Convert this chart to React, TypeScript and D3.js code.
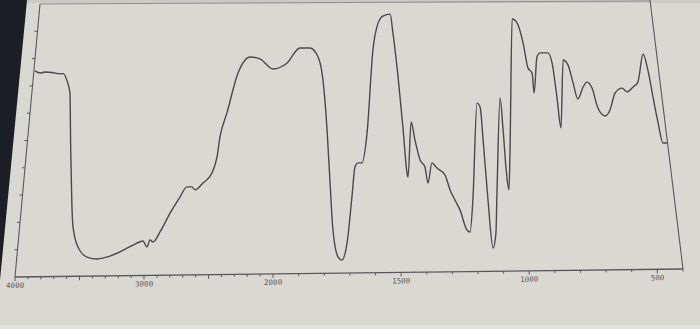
import React from "react";
import * as d3 from "d3";

// Wavenumber (cm-1) of each sampled point of the spectrum
const wavenumbers = [
  3845, 3806, 3767, 3713, 3651, 3628, 3599, 3574, 3568, 3560, 3550, 3512, 3442, 3364, 3287,
  3186, 3085, 3008, 2977, 2953, 2930, 2876, 2798, 2721, 2667, 2628, 2605, 2543, 2473, 2434,
  2411, 2357, 2271, 2178, 2101, 2000, 1945, 1895, 1856, 1824, 1805, 1789, 1778, 1766, 1746,
  1731, 1711, 1692, 1680, 1668, 1653, 1633, 1610, 1590, 1571, 1543, 1532, 1512, 1493, 1477,
  1473, 1461, 1446, 1426, 1407, 1395, 1380, 1360, 1329, 1309, 1290, 1270, 1243, 1231, 1220,
  1204, 1192, 1180, 1161, 1141, 1130, 1126, 1114, 1102, 1090, 1079, 1075, 1067, 1047, 1024,
  1005, 989, 981, 970, 958, 927, 911, 892, 876, 868, 849, 829, 810, 790, 775,
  755, 732, 704, 685, 665, 638, 618, 595, 576, 556, 537, 517, 497, 478, 462,
];

// Transmittance (%) at each wavenumber
const transmittance = [
  75.5, 74.7, 75.1, 74.9, 74.4, 74.5, 72.2, 67.4, 46.5, 28.2, 18.3, 11.0, 7.3, 6.6, 7.3,
  9.2, 11.7, 13.2, 11.0, 13.6, 12.8, 16.5, 23.4, 29.3, 33.0, 33.0, 31.9, 34.4, 38.1, 44.0,
  51.3, 60.1, 74.7, 80.6, 79.9, 76.2, 78.4, 83.9, 83.9, 80.6, 72.2, 53.8, 35.5, 17.2, 7.3,
  6.2, 12.5, 29.3, 40.3, 41.8, 41.8, 52.7, 83.2, 93.0, 95.6, 96.3, 89.4, 73.3, 54.9, 38.1,
  36.6, 56.8, 50.2, 42.9, 40.3, 34.4, 41.8, 39.9, 37.4, 31.9, 28.2, 24.5, 17.2, 16.5, 28.2,
  63.7, 62.3, 50.2, 28.2, 10.6, 16.1, 30.8, 65.6, 53.8, 39.2, 31.9, 46.5, 94.5, 93.0, 85.7,
  76.6, 74.7, 67.4, 80.6, 82.1, 82.1, 78.4, 65.9, 54.6, 79.5, 77.7, 71.1, 65.2, 69.6, 71.4,
  69.2, 61.9, 59.0, 61.2, 67.4, 69.2, 67.8, 69.6, 71.4, 81.7, 75.8, 65.9, 56.4, 49.1, 49.1,
];

const tickLabels = ["4000", "3000", "2000", "1500", "1000", "500"];
const tickLabelValues = [4000, 3000, 2000, 1500, 1000, 500];
const yTickValues = [10, 20, 30, 40, 50, 60, 70, 80, 90];

export default function App() {
  const W = 700;
  const H = 329;
  const x = d3.scaleLinear().domain([4000, 2000, 400]).range([15, 273, 683]);
  const y = d3.scaleLinear().domain([0, 100]).range([277, 4]);

  const x0 = x(4000);
  const x1 = x(400);
  const yB = y(0);
  const yT = y(100);
  const leftTopShift = 25;
  const rightTopShift = -33;
  const rightDrop = -8; // bottom axis tilt (pixels) at the right end
  const angle = (Math.atan2(rightDrop, x1 - x0) * 180) / Math.PI;

  const pts: [number, number][] = wavenumbers.map((w, i) => [x(w), y(transmittance[i])]);
  const line = d3
    .line<[number, number]>()
    .x((d) => d[0])
    .y((d) => d[1])
    .curve(d3.curveMonotoneX);

  const minorTicks = d3.range(4000, 399, -100);
  const leftAxisX = (v: number) => x0 + ((y(v) - yB) / (yT - yB)) * leftTopShift;

  const frameColor = "#5a5860";

  return (
    <svg
      width={W}
      height={H}
      style={{ position: "absolute", left: 0, top: 0, display: "block" }}
    >
      <rect x={0} y={0} width={W} height={H} fill="#d9d8d2" />
      <rect x={0} y={H - 4} width={W} height={4} fill="#e2e2de" />
      <rect x={0} y={0} width={W} height={yT - 1} fill="#c9c9c6" />
      <polygon points={`0,0 ${x0 + 12},0 ${x0 - 15},${yB + 3} 0,${yB + 3}`} fill="#1b1e24" />

      {/* frame */}
      <line x1={x0 + leftTopShift} y1={yT} x2={x1 + rightTopShift} y2={yT - 3} stroke="#8d8c90" strokeWidth={1} />
      <line x1={x0} y1={yB} x2={x0 + leftTopShift} y2={yT} stroke={frameColor} strokeWidth={1.1} />
      <line x1={x1} y1={yB + rightDrop} x2={x1 + rightTopShift} y2={yT - 4} stroke={frameColor} strokeWidth={1.1} />

      {/* left axis ticks */}
      {yTickValues.map((v) => (
        <line
          key={v}
          x1={leftAxisX(v)}
          y1={y(v)}
          x2={leftAxisX(v) - 3}
          y2={y(v)}
          stroke={frameColor}
          strokeWidth={1}
        />
      ))}

      {/* bottom axis */}
      <g transform={`rotate(${angle}, ${x0}, ${yB})`}>
        <line x1={x0} y1={yB} x2={x1} y2={yB} stroke={frameColor} strokeWidth={1.3} />
        {minorTicks.map((t) => (
          <line
            key={t}
            x1={x(t)}
            y1={yB}
            x2={x(t)}
            y2={yB + (t % 500 === 0 ? 4 : 2.5)}
            stroke={frameColor}
            strokeWidth={1}
          />
        ))}
        {tickLabelValues.map((t, i) => (
          <text
            key={t}
            x={x(t)}
            y={yB + 11}
            fontSize={7.5}
            fontFamily="DejaVu Sans Mono, monospace"
            fill="#5e5c62"
            textAnchor="middle"
          >
            {tickLabels[i]}
          </text>
        ))}
      </g>

      {/* spectrum */}
      <path d={line(pts) || ""} fill="none" stroke="#4a4850" strokeWidth={1.4} strokeLinejoin="round" />
    </svg>
  );
}
